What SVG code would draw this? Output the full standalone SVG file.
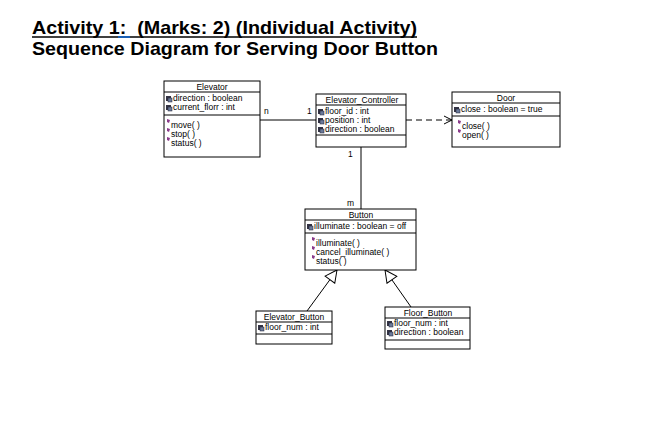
<svg xmlns="http://www.w3.org/2000/svg" width="668" height="440" viewBox="0 0 668 440">
<style>
.b{fill:#fff;stroke:#000;stroke-width:1}
.t{font-family:"Liberation Sans",Arial,sans-serif;font-size:8.5px;fill:#000}
.h{font-family:"Liberation Sans",Arial,sans-serif;font-size:19px;font-weight:bold;fill:#000;white-space:pre}
.l{stroke:#000;stroke-width:1;fill:none}
</style>
<defs>
<g id="ai"><rect x="0" y="-6" width="5" height="5" fill="#334" /><rect x="2" y="-4" width="4" height="4" fill="#6a7a9a" stroke="#223" stroke-width="0.5"/></g>
<g id="mi"><path d="M0,-6 L3,-5 L2,-2 L0,-3 Z" fill="#8a3a8a"/></g>
<marker id="open" markerWidth="10" markerHeight="10" refX="9" refY="5" orient="auto" markerUnits="userSpaceOnUse"><path d="M1,1 L9,5 L1,9" fill="none" stroke="#000"/></marker>
<marker id="tri" markerWidth="14" markerHeight="14" refX="13" refY="7" orient="auto" markerUnits="userSpaceOnUse"><path d="M1,1 L13,7 L1,13 Z" fill="#fff" stroke="#000"/></marker>
</defs>
<text class="h" x="32" y="34" xml:space="preserve" textLength="385" lengthAdjust="spacingAndGlyphs">Activity 1:  (Marks: 2) (Individual Activity)</text>
<line x1="32" y1="37" x2="417" y2="37" stroke="#000" stroke-width="1.5"/>
<line x1="118" y1="37" x2="130" y2="37" stroke="#1a5fb4" stroke-width="2"/>
<text class="h" x="32" y="55" textLength="406" lengthAdjust="spacingAndGlyphs">Sequence Diagram for Serving Door Button</text>

<g id="connectors">
<line class="l" x1="260" y1="120" x2="316" y2="120"/>
<text class="t" x="264" y="114">n</text><text class="t" x="307" y="114">1</text>
<line class="l" x1="406" y1="120" x2="452" y2="120" stroke-dasharray="6,4" marker-end="url(#open)"/>
<line class="l" x1="361" y1="147" x2="361" y2="209"/>
<text class="t" x="348" y="157">1</text><text class="t" x="347" y="206">m</text>
<line class="l" x1="307" y1="311" x2="337" y2="270" marker-end="url(#tri)"/>
<line class="l" x1="411" y1="307" x2="385" y2="270" marker-end="url(#tri)"/>
</g>

<g id="Elevator">
<rect class="b" x="164" y="81" width="96" height="76"/>
<line class="l" x1="164" y1="92" x2="260" y2="92"/><line class="l" x1="164" y1="115" x2="260" y2="115"/>
<text class="t" x="212" y="90" text-anchor="middle">Elevator</text>
<use href="#ai" x="166" y="102"/><text class="t" x="173" y="101">direction : boolean</text>
<use href="#ai" x="166" y="111"/><text class="t" x="173" y="110">current_florr : int</text>
<use href="#mi" x="167" y="125"/><text class="t" x="171" y="128">move( )</text>
<use href="#mi" x="167" y="134"/><text class="t" x="171" y="137">stop( )</text>
<use href="#mi" x="167" y="143"/><text class="t" x="171" y="146">status( )</text>
</g>

<g id="Elevator_Controller">
<rect class="b" x="316" y="94" width="90" height="53"/>
<line class="l" x1="316" y1="105" x2="406" y2="105"/><line class="l" x1="316" y1="135" x2="406" y2="135"/>
<text class="t" x="362" y="103" text-anchor="middle">Elevator_Controller</text>
<use href="#ai" x="318" y="115"/><text class="t" x="325" y="114">floor_id : int</text>
<use href="#ai" x="318" y="124"/><text class="t" x="325" y="123">position : int</text>
<use href="#ai" x="318" y="133"/><text class="t" x="325" y="132">direction : boolean</text>
</g>

<g id="Door">
<rect class="b" x="452" y="92" width="108" height="55"/>
<line class="l" x1="452" y1="103" x2="560" y2="103"/><line class="l" x1="452" y1="116" x2="560" y2="116"/>
<text class="t" x="506" y="101" text-anchor="middle">Door</text>
<use href="#ai" x="454" y="113"/><text class="t" x="461" y="112">close : boolean = true</text>
<use href="#mi" x="458" y="126"/><text class="t" x="462" y="129">close( )</text>
<use href="#mi" x="458" y="135"/><text class="t" x="462" y="138">open( )</text>
</g>

<g id="Button">
<rect class="b" x="305" y="209" width="111" height="61"/>
<line class="l" x1="305" y1="220" x2="416" y2="220"/><line class="l" x1="305" y1="233" x2="416" y2="233"/>
<text class="t" x="361" y="218" text-anchor="middle">Button</text>
<use href="#ai" x="307" y="230"/><text class="t" x="314" y="229">illuminate : boolean = off</text>
<use href="#mi" x="312" y="243"/><text class="t" x="316" y="246">illuminate( )</text>
<use href="#mi" x="312" y="252"/><text class="t" x="316" y="255">cancel_illuminate( )</text>
<use href="#mi" x="312" y="261"/><text class="t" x="316" y="264">status( )</text>
</g>

<g id="Elevator_Button">
<rect class="b" x="256" y="311" width="76" height="33"/>
<line class="l" x1="256" y1="322" x2="332" y2="322"/><line class="l" x1="256" y1="334" x2="332" y2="334"/>
<text class="t" x="294" y="320" text-anchor="middle">Elevator_Button</text>
<use href="#ai" x="258" y="331"/><text class="t" x="265" y="330">floor_num : int</text>
</g>

<g id="Floor_Button">
<rect class="b" x="385" y="307" width="85" height="42"/>
<line class="l" x1="385" y1="318" x2="470" y2="318"/><line class="l" x1="385" y1="340" x2="470" y2="340"/>
<text class="t" x="428" y="316" text-anchor="middle">Floor_Button</text>
<use href="#ai" x="387" y="327"/><text class="t" x="394" y="326">floor_num : int</text>
<use href="#ai" x="387" y="336"/><text class="t" x="394" y="335">direction : boolean</text>
</g>
</svg>
